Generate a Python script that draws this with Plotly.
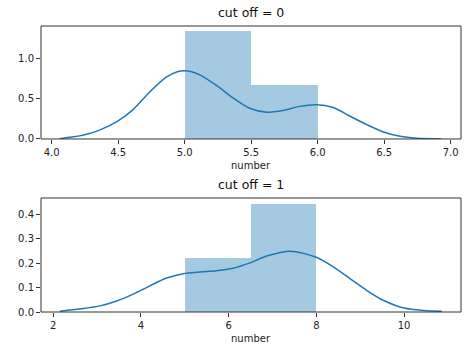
import plotly.graph_objects as go

# ---- data ----
titles = ["cut off = 0", "cut off = 1"]
x_label = "number"

top_bin_left = [5.0, 5.5]
top_bin_width = [0.5, 0.5]
top_bin_height = [1.333, 0.667]

top_kde_x = [4.059, 4.234, 4.36, 4.5, 4.61, 4.736, 4.862, 4.94, 5.0, 5.06, 5.113, 5.239, 5.364,
             5.49, 5.615, 5.74, 5.866, 5.99, 6.117, 6.24, 6.37, 6.49, 6.62, 6.745, 6.93]
top_kde_y = [0.004, 0.045, 0.11, 0.225, 0.36, 0.58, 0.765, 0.83, 0.846, 0.83, 0.795, 0.665, 0.508,
             0.38, 0.332, 0.354, 0.404, 0.425, 0.39, 0.285, 0.177, 0.09, 0.033, 0.009, 0.001]

bot_bin_left = [5.0, 6.5]
bot_bin_width = [1.5, 1.5]
bot_bin_height = [0.222, 0.444]

bot_kde_x = [2.15, 2.68, 3.065, 3.446, 3.824, 4.205, 4.586, 4.965, 5.345, 5.726, 6.105,
             6.486, 6.867, 7.4, 8.0, 8.385, 8.766, 9.147, 9.526, 10.0, 10.44, 10.86]
bot_kde_y = [0.003, 0.014, 0.025, 0.045, 0.073, 0.107, 0.139, 0.157, 0.164, 0.169, 0.179,
             0.201, 0.229, 0.249, 0.224, 0.185, 0.137, 0.089, 0.048, 0.016, 0.006, 0.003]

top_xticks = [4.0, 4.5, 5.0, 5.5, 6.0, 6.5, 7.0]
top_yticks = [0.0, 0.5, 1.0]
bot_xticks = [2, 4, 6, 8, 10]
bot_yticks = [0.0, 0.1, 0.2, 0.3, 0.4]

# ---- style ----
BAR = "rgba(31,119,180,0.4)"
LINE = "#1f77b4"
AX = "#333333"
FONT = "DejaVu Sans"
TOP_DOM = [0.605, 1.0]
BOT_DOM = [0.0, 0.3986]

fig = go.Figure()

fig.add_trace(go.Bar(x=top_bin_left, y=top_bin_height, width=top_bin_width, offset=0,
                     marker=dict(color=BAR, line=dict(width=0)),
                     xaxis="x", yaxis="y", showlegend=False))
fig.add_trace(go.Scatter(x=top_kde_x, y=top_kde_y, mode="lines",
                         line=dict(color=LINE, width=1.5, shape="spline", smoothing=0.8),
                         xaxis="x", yaxis="y", showlegend=False))
fig.add_trace(go.Bar(x=bot_bin_left, y=bot_bin_height, width=bot_bin_width, offset=0,
                     marker=dict(color=BAR, line=dict(width=0)),
                     xaxis="x2", yaxis="y2", showlegend=False))
fig.add_trace(go.Scatter(x=bot_kde_x, y=bot_kde_y, mode="lines",
                         line=dict(color=LINE, width=1.5, shape="spline", smoothing=0.8),
                         xaxis="x2", yaxis="y2", showlegend=False))

axis_common = dict(showline=False, automargin=False,
                   ticks="outside", ticklen=4, tickwidth=1, tickcolor=AX,
                   showgrid=False, zeroline=False,
                   tickfont=dict(family=FONT, size=10, color="#222"))

fig.update_layout(
    width=474, height=355,
    margin=dict(l=41, r=13, t=26, b=43),
    paper_bgcolor="white", plot_bgcolor="white",
    bargap=0,
    font=dict(family=FONT, size=10, color="#222"),
    xaxis=dict(domain=[0, 1], anchor="y", range=[3.92, 7.078],
               tickvals=top_xticks, ticktext=[f"{v:.1f}" for v in top_xticks],
               **axis_common),
    yaxis=dict(domain=TOP_DOM, anchor="x", range=[0, 1.4],
               tickvals=top_yticks, ticktext=[f"{v:.1f}" for v in top_yticks],
               **axis_common),
    xaxis2=dict(domain=[0, 1], anchor="y2", range=[1.72, 11.3],
                tickvals=bot_xticks, ticktext=[str(v) for v in bot_xticks],
                **axis_common),
    yaxis2=dict(domain=BOT_DOM, anchor="x2", range=[0, 0.4667],
                tickvals=bot_yticks, ticktext=[f"{v:.1f}" for v in bot_yticks],
                **axis_common),
    shapes=[
        dict(type="rect", xref="x domain", yref="y domain", x0=0, x1=1, y0=0, y1=1,
             line=dict(color=AX, width=1), fillcolor="rgba(0,0,0,0)", layer="above"),
        dict(type="rect", xref="x2 domain", yref="y2 domain", x0=0, x1=1, y0=0, y1=1,
             line=dict(color=AX, width=1), fillcolor="rgba(0,0,0,0)", layer="above"),
    ],
    annotations=[
        dict(text=titles[0], xref="paper", yref="paper", x=0.5, y=TOP_DOM[1],
             yshift=4, xanchor="center", yanchor="bottom", showarrow=False,
             font=dict(family=FONT, size=12.5, color="#111")),
        dict(text=titles[1], xref="paper", yref="paper", x=0.5, y=BOT_DOM[1],
             yshift=4, xanchor="center", yanchor="bottom", showarrow=False,
             font=dict(family=FONT, size=12.5, color="#111")),
        dict(text=x_label, xref="paper", yref="paper", x=0.5, y=TOP_DOM[0],
             yshift=-27, xanchor="center", yanchor="middle", showarrow=False,
             font=dict(family=FONT, size=10, color="#222")),
        dict(text=x_label, xref="paper", yref="paper", x=0.5, y=BOT_DOM[0],
             yshift=-26, xanchor="center", yanchor="middle", showarrow=False,
             font=dict(family=FONT, size=10, color="#222")),
    ],
)

fig.write_html("out.html", config={"displayModeBar": False},
               post_script="document.body.style.margin='0';document.body.style.padding='0';")
